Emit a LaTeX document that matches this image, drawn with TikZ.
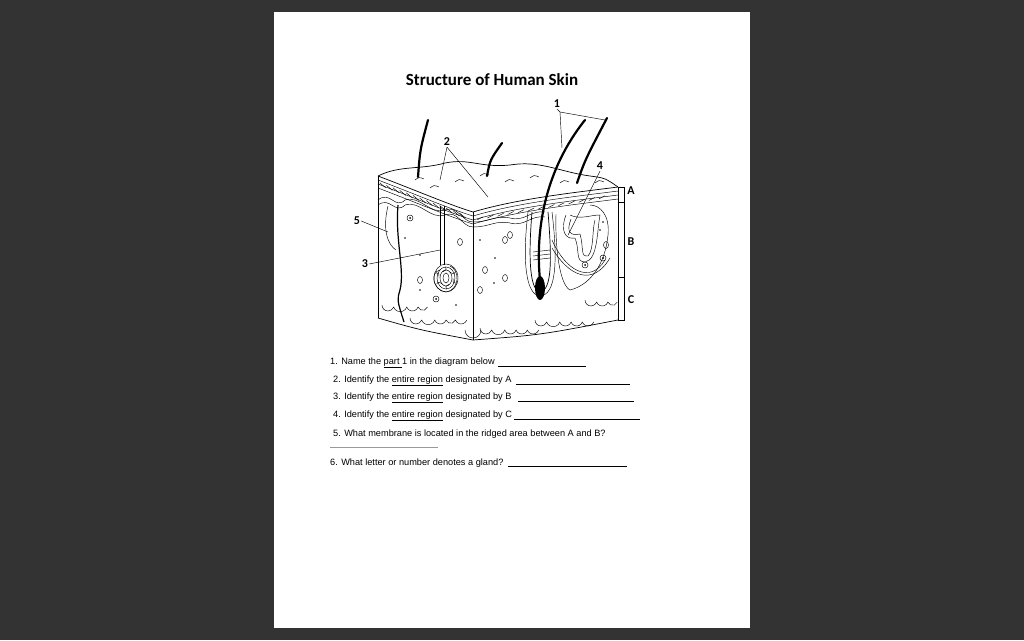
\documentclass[tikz,border=0pt]{standalone}
\usepackage{fontspec}
\usetikzlibrary{calc}
\setmainfont{Liberation Sans}
\newfontfamily\titlefont{Carlito}
\begin{document}
\begin{tikzpicture}[x=1pt,y=-1pt,
  lab/.style={font=\fontsize{12}{12}\selectfont\bfseries\titlefont,inner sep=1pt},
  q/.style={font=\fontsize{9.2}{10}\selectfont,anchor=west,inner sep=0pt},
  ln/.style={line width=0.45pt},
  hair/.style={line width=2.2pt,line cap=round},
  thin/.style={line width=0.7pt}]
\fill[black!80] (0,0) rectangle (1024,640);
\useasboundingbox (0,0) rectangle (1024,640);
\fill[white] (274,12) rectangle (750,628);
\node[font=\fontsize{17}{17}\selectfont\bfseries\titlefont] (title) at (492,80) {Structure of Human Skin};
% block outline
\coordinate (lt) at (378,176); \coordinate (ct) at (473,212); \coordinate (rt) at (618,187);
\coordinate (lb) at (378,318); \coordinate (cb) at (473,340); \coordinate (rb) at (618,320);
\draw[thin] (lt) -- (lb); \draw[thin] (ct) -- (cb); \draw[thin] (rt) -- (rb);
\draw[thin] (lb) .. controls (420,330) .. (cb); \draw[thin] (cb) .. controls (540,335) .. (rb);
% top surface
\draw[thin] (lt) .. controls (400,165) and (420,170) .. (445,163) .. controls (470,158) and (480,168) .. (510,165)
  .. controls (540,160) and (560,172) .. (590,176) .. controls (605,178) .. (rt);
\draw[thin] (lt) .. controls (420,192) and (450,205) .. (ct) .. controls (520,198) and (580,192) .. (rt);
\foreach \d in {4,8,12}{
 \draw[ln] ($(lt)+(0,\d)$) .. controls (420,192+\d) and (450,205+\d) .. ($(ct)+(0,\d)$) .. controls (520,198+\d) and (580,192+\d) .. ($(rt)+(0,\d)$);}
\foreach \t in {0.05,0.12,...,0.95}{
 \draw[ln] ($(lt)!\t!(ct)+(-3,5)$) -- ++(6,5);
 \draw[ln] ($(ct)!\t!(rt)+(-3,9)$) -- ++(6,-3);}
% wavy dermis border
\draw[ln] (378,200) .. controls (390,190) and (395,210) .. (405,200) .. controls (420,195) and (430,215) .. (445,210) .. controls (458,205) and (462,222) .. (473,222)
  .. controls (490,222) and (495,215) .. (510,218) .. controls (525,222) and (530,210) .. (545,212);
\draw[ln] (378,205) .. controls (390,196) and (395,215) .. (405,205) .. controls (420,200) and (430,220) .. (445,215) .. controls (458,210) and (462,227) .. (473,227)
  .. controls (490,227) and (495,220) .. (510,223) .. controls (525,227) and (530,215) .. (545,217);
% top surface small marks
\foreach \p in {(415,180),(430,188),(455,182),(480,176),(505,182),(530,178),(560,183),(595,183)}{
 \draw[ln] \p .. controls ++(4,-3) .. ++(9,-1);}
% hairs
\draw[hair] (418,177) .. controls (420,150) .. (428,120);
\draw[hair] (487,176) .. controls (490,160) .. (502,143);
\draw[hair] (540,280) .. controls (535,230) and (545,170) .. (585,120);
\draw[hair] (577,183) .. controls (585,160) .. (607,118);
% follicle
\draw[thin] (532,212) .. controls (528,260) and (530,290) .. (540,292) .. controls (552,290) and (552,260) .. (548,212);
\draw[ln] (528,212) .. controls (522,262) and (526,295) .. (540,296) .. controls (556,295) and (558,262) .. (552,212);
\fill (540,288) ellipse (5 and 12);
\draw[ln] (533,252) -- (550,250) (533,256) -- (550,254) (533,260) -- (550,258);
\draw[ln] (552,240) .. controls (565,270) and (590,285) .. (605,260);
\draw[ln] (552,248) .. controls (568,275) and (592,288) .. (610,258);
% sebaceous-like loop
\draw[ln] (556,214) .. controls (555,250) and (560,285) .. (570,290) .. controls (590,285) and (605,265) .. (608,235)
  .. controls (610,215) and (600,205) .. (590,205);
\draw[ln] (566,215) .. controls (560,230) and (565,240) .. (575,238) .. controls (580,250) and (575,262) .. (585,262)
  .. controls (598,260) and (597,230) .. (600,215) .. controls (590,215) and (580,220) .. (570,215);
\draw[ln] (571,219) .. controls (566,232) and (570,236) .. (580,234) .. controls (584,248) and (580,257) .. (588,256)
  .. controls (594,250) and (592,230) .. (595,220);
% left vessel
\draw[line width=1.2pt] (398,205) .. controls (395,240) and (405,270) .. (400,290) .. controls (397,300) .. (404,322);
\draw[ln] (388,206) .. controls (382,230) and (388,245) .. (396,250);
% sweat gland duct and coil
\draw[ln] (440,206) -- (440,265) (444,206) -- (444,265);
\foreach \r in {3,6,9,12}{\draw[ln] (446,278) ellipse ({\r} and {\r+2});}
\foreach \a in {0,60,...,300}{\draw[ln] (446,278) ++(\a:7) .. controls +(\a+90:5) .. ++(\a+60:6);}
\draw[ln] (440,270) .. controls (430,272) and (432,290) .. (446,292) .. controls (460,290) and (460,270) .. (450,266);
% scattered dots/circles
\foreach \p in {(410,218),(436,299),(585,265),(603,258)}{\draw[ln] \p circle (3); \fill \p circle (1);}
\foreach \p in {(460,242),(505,240),(485,270),(505,278),(480,290),(606,245),(510,235),(420,280)}{\draw[ln] \p ellipse (2.5 and 3.5);}
\foreach \p in {(405,238),(420,255),(420,290),(480,240),(495,258),(494,283),(456,305),(603,222),(600,230)}{\fill \p circle (0.9);}
% fat clouds
\draw[ln] (382,305) arc (180:20:6) arc (160:20:7) arc (160:20:6) arc (160:20:5);
\draw[ln] (410,318) arc (180:20:6) arc (160:20:7) arc (160:20:6) arc (160:20:5) arc (160:20:6);
\draw[ln] (465,330) arc (180:0:8);
\draw[ln] (480,328) arc (180:20:6) arc (160:20:7) arc (160:20:6) arc (160:20:6) arc (160:20:6);
\draw[ln] (535,320) arc (180:20:6) arc (160:20:7) arc (160:20:6) arc (160:20:6) arc (160:20:6);
\draw[ln] (585,300) arc (180:20:6) arc (160:20:6) arc (160:20:5);
% scale bar
\draw[ln] (618,187) rectangle (624,202); \draw[ln] (618,202) rectangle (624,277); \draw[ln] (618,277) rectangle (624,320);
\node[lab] (A) at (631,191) {A}; \node[lab] (B) at (631,242) {B}; \node[lab] (C) at (631,300) {C};
% labels and leaders
\node[lab] (l1) at (557,104) {1}; \coordinate (e1a) at (562,148); \coordinate (e1b) at (605,120);
\draw[ln] (l1.south) -- (560,112) -- (e1a); \draw[ln] (560,112) -- (e1b);
\node[lab] (l2) at (447,142) {2}; \coordinate (e2a) at (440,180); \coordinate (e2b) at (488,197);
\draw[ln] (l2.south) -- (e2a); \draw[ln] (l2.south) -- (e2b);
\node[lab] (l4) at (600,166) {4}; \coordinate (e4) at (568,235); \draw[ln] (l4.south) -- (e4);
\node[lab] (l5) at (357,221) {5}; \coordinate (e5) at (388,232); \draw[ln] (l5.east) -- (e5);
\node[lab] (l3) at (365,264) {3}; \coordinate (e3) at (440,250); \draw[ln] (l3.east) -- (e3);
% questions
\node[q] (q1) at (330,363) {1. Name the \underline{part }1 in the diagram below};
\node[q] (q2) at (333,381) {2. Identify the \underline{entire region} designated by A};
\node[q] (q3) at (333,398) {3. Identify the \underline{entire region} designated by B};
\node[q] (q4) at (333,416) {4. Identify the \underline{entire region} designated by C};
\node[q] (q5) at (333,434) {5. What membrane is located in the ridged area between A and B?};
\node[q] (q6) at (330,463) {6. What letter or number denotes a gland?};
\draw[ln] (498,366) -- (586,366); \draw[ln] (516,384) -- (630,384); \draw[ln] (518,401) -- (634,401);
\draw[ln] (514,419) -- (640,419); \draw[ln,black!40] (330,447) -- (438,447); \draw[ln] (508,466) -- (627,466);
\end{tikzpicture}
\end{document}
